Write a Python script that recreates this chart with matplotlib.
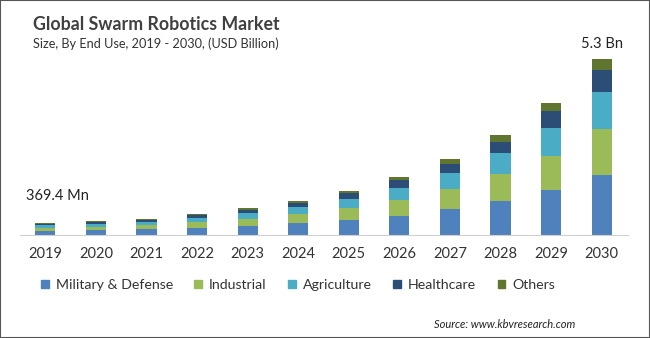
import numpy as np
import matplotlib
matplotlib.use("Agg")
import matplotlib.pyplot as plt
from matplotlib.patches import Rectangle, Patch

years = ['2019', '2020', '2021', '2022', '2023', '2024', '2025', '2026', '2027', '2028', '2029', '2030']
military = [0.125, 0.145, 0.17, 0.22, 0.28, 0.37, 0.45, 0.58, 0.78, 1.02, 1.36, 1.81]
industrial = [0.096, 0.11, 0.13, 0.17, 0.21, 0.26, 0.36, 0.48, 0.60, 0.81, 1.03, 1.39]
agriculture = [0.078, 0.09, 0.10, 0.13, 0.17, 0.20, 0.28, 0.36, 0.49, 0.63, 0.84, 1.11]
healthcare = [0.044, 0.05, 0.06, 0.08, 0.10, 0.14, 0.18, 0.23, 0.26, 0.34, 0.50, 0.65]
others = [0.026, 0.025, 0.03, 0.04, 0.05, 0.07, 0.07, 0.10, 0.17, 0.21, 0.25, 0.34]
series_names = ['Military & Defense', 'Industrial', 'Agriculture', 'Healthcare', 'Others']
colors = ['#4f81bd', '#9bbb59', '#4bacc6', '#2c4d75', '#5f7530']

plt.rcParams['font.family'] = ['Lato', 'DejaVu Sans']

fig = plt.figure(figsize=(6.5, 3.38), dpi=100)
ax = fig.add_axes([20/650, 103/338, 608/650, 199/338])

x = np.arange(len(years))
bottom = np.zeros(len(years))
for vals, c in zip([military, industrial, agriculture, healthcare, others], colors):
    ax.bar(x, vals, 0.4, bottom=bottom, color=c)
    bottom += np.array(vals)

ax.set_xlim(-0.5, 11.52)
ax.set_ylim(0, 6)
ax.set_yticks([])
ax.set_xticks(x)
ax.set_xticklabels(years, fontsize=10.5, color='#333333')
ax.tick_params(axis='x', length=0, pad=9)
for s in ['top', 'left', 'right']:
    ax.spines[s].set_visible(False)
ax.spines['bottom'].set_color('#d0d0d0')

ax.annotate('369.4 Mn', (x[0], bottom[0]), xytext=(-14, 14), textcoords='offset points',
            fontsize=10.5, color='#222222', ha='left', va='bottom')
ax.annotate('5.3 Bn', (x[-1], bottom[-1]), xytext=(0, 6), textcoords='offset points',
            fontsize=10.5, color='#222222', ha='center', va='bottom')

fig.text(33/650, 1 - 24/338, 'Global Swarm Robotics Market', fontsize=12.8, fontweight='bold',
         color='#404040', va='center')
fig.text(33/650, 1 - 44/338, 'Size, By End Use, 2019 - 2030, (USD Billion)', fontsize=9.2,
         color='#333333', va='center')

handles = [Patch(color=c) for c in colors]
fig.legend(handles, series_names, loc='center left', bbox_to_anchor=(41/650, 1 - 285/338), ncol=5,
           frameon=False, fontsize=10.2, handlelength=0.55, handleheight=0.55,
           handletextpad=0.5, columnspacing=1.5, labelcolor='#333333', borderpad=0,
           borderaxespad=0)

fig.text(575/650, 1 - 325/338, 'Source: www.kbvresearch.com', fontsize=8, style='italic',
         color='#222222', ha='right', va='center')

fig.patches.append(Rectangle((0, 0), 1, 1, transform=fig.transFigure, fill=False,
                             edgecolor='#555555', linewidth=1.5))

fig.savefig('out.png', dpi=100)
